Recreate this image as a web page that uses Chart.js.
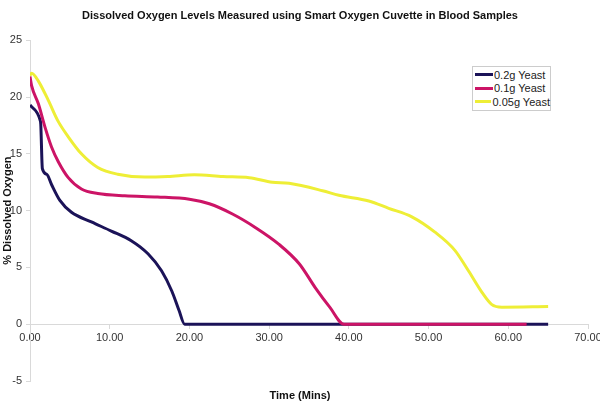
<!DOCTYPE html>
<html>
<head>
<meta charset="utf-8">
<script src="https://cdn.jsdelivr.net/npm/chart.js@4.4.0/dist/chart.umd.min.js"></script>
<style>
  body { margin: 0; background: #fff; }
  #wrap { position: relative; width: 600px; height: 401px; }
  #legend {
    position: absolute; left: 472px; top: 66px; width: 77px;
    border: 1px solid #ccc; background: #fff; padding: 1px 0;
    font: 11px "Liberation Sans", Arial, sans-serif; color: #222;
  }
  .item { display: flex; align-items: center; height: 13.5px; white-space: nowrap; }
  .swatch { width: 18px; height: 3px; margin: 0 1px 0 2px; }
</style>
</head>
<body>
<div id="wrap">
  <canvas id="chart" width="600" height="401"></canvas>
  <div id="legend"></div>
</div>
<script>
// series names and colours
const seriesNames = ["0.2g Yeast", "0.1g Yeast", "0.05g Yeast"];
const seriesColors = ["#1b1358", "#cc1466", "#eeee36"];

// 0.2g yeast
const time02 = [0, 1.25, 1.35, 1.55, 2.1, 2.7, 3.75, 5.2, 7.7, 10.2, 12.7, 14.8, 16.5, 17.8, 18.7, 19.4, 65];
const oxygen02 = [19.3, 18.0, 17.6, 13.7, 13.2, 12.3, 10.9, 9.85, 9.0, 8.2, 7.35, 6.2, 4.7, 2.9, 1.2, 0, 0];

// 0.1g yeast
const time01 = [0, 0.2, 1.05, 1.9, 2.7, 3.55, 4.8, 6.45, 8.5, 11.9, 16, 20, 22.5, 25.4, 28.3, 31.2, 33.8, 35.8, 37.6, 39.4, 62.3];
const oxygen01 = [21.8, 21.0, 19.4, 17.3, 15.6, 14.3, 12.9, 11.9, 11.5, 11.3, 11.2, 11.0, 10.6, 9.7, 8.5, 7.05, 5.3, 3.2, 1.5, 0, 0];

// 0.05g yeast
const time005 = [0, 0.2, 1.05, 2.3, 3.5, 4.8, 6.45, 8.5, 11.0, 14.4, 17.3, 20.6, 24.2, 27.5, 30.4, 32.5, 36.7, 38.75, 42.5, 45, 47.9, 50.8, 53.3, 55, 56.7, 57.9, 59.2, 65];
const oxygen005 = [21.9, 22.1, 21.4, 19.7, 17.9, 16.5, 15.0, 13.8, 13.2, 12.95, 13.0, 13.15, 13.0, 12.9, 12.5, 12.4, 11.75, 11.35, 10.85, 10.2, 9.45, 8.1, 6.5, 4.7, 2.8, 1.75, 1.5, 1.55];

// axis ticks
const xTicks = [0, 10, 20, 30, 40, 50, 60, 70];
const yTicks = [-5, 0, 5, 10, 15, 20, 25];

const times = [time02, time01, time005];
const values = [oxygen02, oxygen01, oxygen005];
const drawOrder = [1, 0, 2];

Chart.defaults.font.family = '"Liberation Sans", Arial, sans-serif';
Chart.defaults.font.size = 11;
Chart.defaults.color = "#333";

const datasets = seriesNames.map((name, i) => ({
    label: name,
    data: times[i].map((t, j) => ({ x: t, y: values[i][j] })),
    borderColor: seriesColors[i],
    backgroundColor: seriesColors[i],
    borderWidth: 3,
    pointRadius: 0,
    cubicInterpolationMode: "monotone",
    fill: false,
    order: drawOrder[i]
}));

const ctx = document.getElementById("chart").getContext("2d");

new Chart(ctx, {
    type: "line",
    data: { datasets: datasets },
    options: {
        responsive: false,
        animation: false,
        layout: { padding: 0 },
        scales: {
            x: {
                type: "linear",
                position: { y: 0 },
                min: xTicks[0],
                max: xTicks[xTicks.length - 1],
                ticks: {
                    stepSize: xTicks[1] - xTicks[0],
                    padding: 3,
                    maxRotation: 0,
                    callback: v => v.toFixed(2)
                },
                grid: { drawOnChartArea: false, tickLength: 4, color: "#d9d9d9" },
                border: { color: "#d9d9d9" },
                afterFit: s => { s.height = 0; s.paddingRight = 12; }
            },
            y: {
                min: yTicks[0],
                max: yTicks[yTicks.length - 1],
                ticks: { stepSize: yTicks[1] - yTicks[0], padding: 4 },
                grid: { drawOnChartArea: false, tickLength: 4, color: "#d9d9d9" },
                border: { color: "#d9d9d9" },
                title: {
                    display: true,
                    text: "% Dissolved Oxygen",
                    color: "#111",
                    font: { weight: "bold", size: 11 },
                    padding: { top: 1, bottom: 0 }
                },
                afterFit: s => { s.width = 30; }
            }
        },
        plugins: {
            legend: { display: false },
            tooltip: { enabled: false },
            title: {
                display: true,
                text: "Dissolved Oxygen Levels Measured using Smart Oxygen Cuvette in Blood Samples",
                color: "#111",
                font: { weight: "bold", size: 11 },
                padding: { top: 9, bottom: 18 }
            },
            subtitle: {
                display: true,
                position: "bottom",
                text: "Time (Mins)",
                color: "#111",
                font: { weight: "bold", size: 11, lineHeight: 1 },
                padding: { top: 9, bottom: 0 }
            }
        }
    }
});

// legend box inside the plot, like the original
const legendBox = document.getElementById("legend");
seriesNames.forEach((name, i) => {
    const row = document.createElement("div");
    row.className = "item";
    const sw = document.createElement("span");
    sw.className = "swatch";
    sw.style.background = seriesColors[i];
    row.appendChild(sw);
    row.appendChild(document.createTextNode(name));
    legendBox.appendChild(row);
});
</script>
</body>
</html>
